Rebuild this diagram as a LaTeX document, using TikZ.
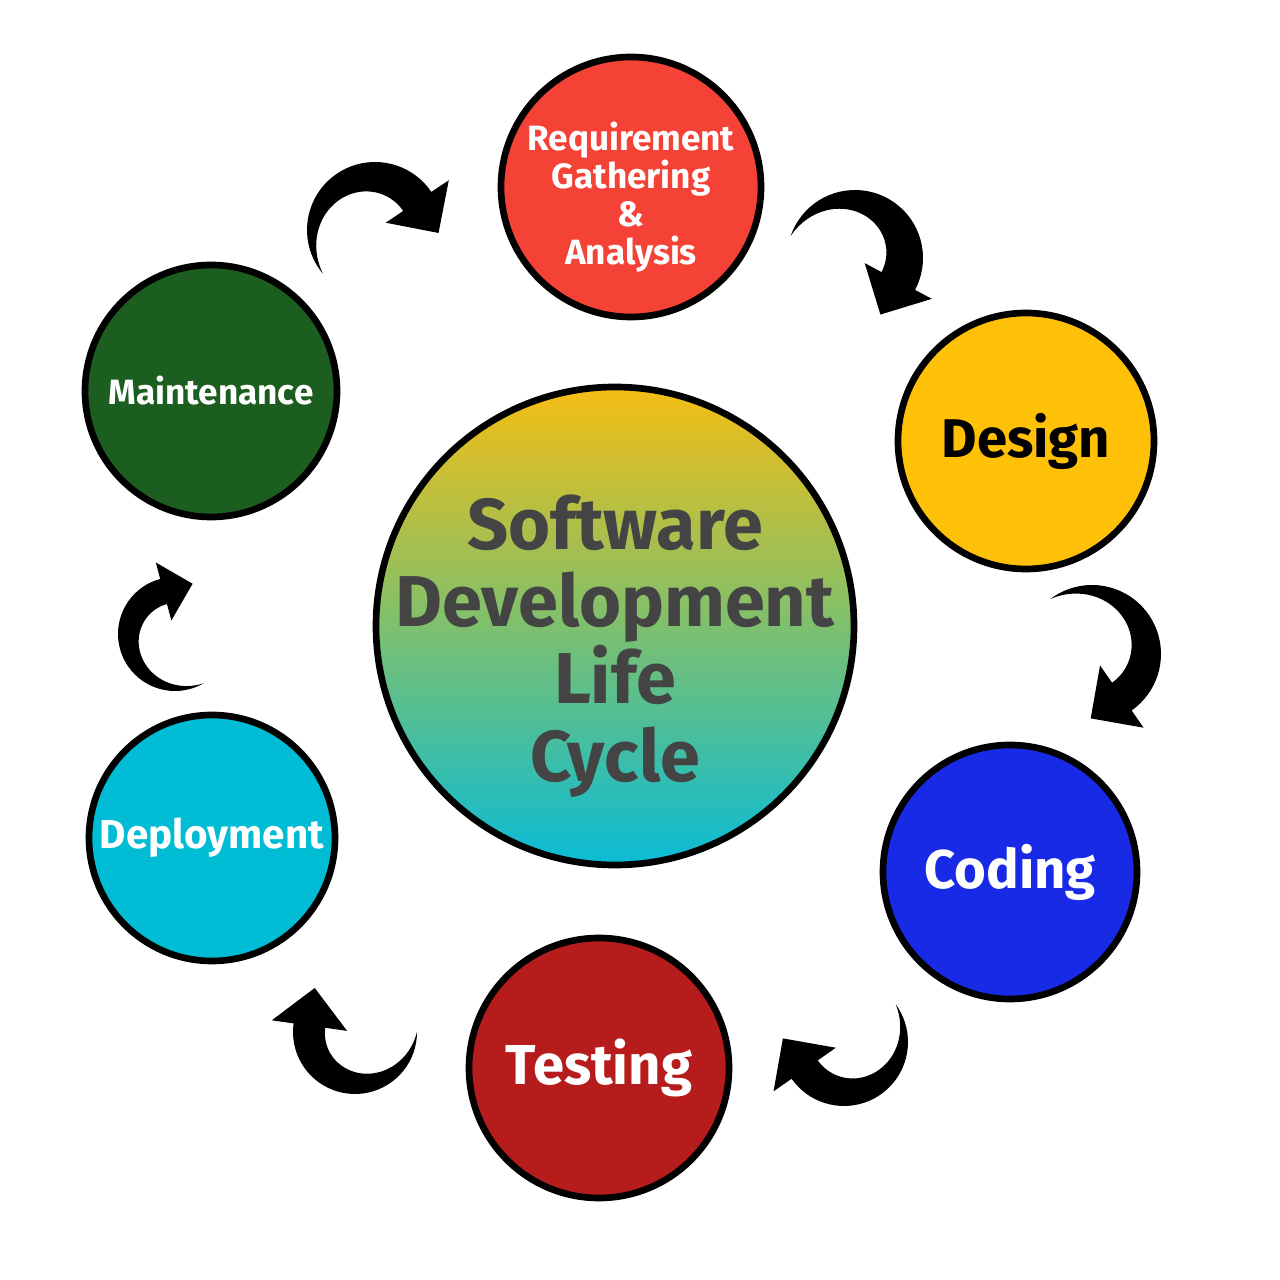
\documentclass[tikz,border=0pt]{standalone}
\usepackage{fontspec}
\setmainfont{Fira Sans}
\usepackage{tikz}
\usepackage{xcolor}

\definecolor{reqred}{RGB}{244,67,54}
\definecolor{designamber}{RGB}{255,193,7}
\definecolor{codingblue}{RGB}{24,42,230}
\definecolor{testingred}{RGB}{183,28,28}
\definecolor{deploycyan}{RGB}{0,188,212}
\definecolor{maintgreen}{RGB}{27,94,32}
\definecolor{sdlctop}{RGB}{245,190,20}
\definecolor{sdlcmid}{RGB}{125,192,110}
\definecolor{sdlcbot}{RGB}{10,188,215}
\definecolor{sdlctext}{RGB}{68,68,68}

% curved arrow: centre x, centre y, radius, tail angle, head angle, shaft width, head half width
\newcommand{\cyclearrow}[7]{%
  \fill[black, shift={(#1,#2)}]
    plot[domain=0:1, samples=40] ({#4+(#5-#4)*\x}:{#3})
    -- (#5:{#3-#6/2+#7})
    -- ({#5-atan(#7/(#3-#6/2))}:{sqrt((#3-#6/2)^2+(#7)^2)})
    -- (#5:{#3-#6/2-#7})
    -- plot[domain=0:1, samples=40] ({#5+(#4-#5)*\x}:{#3-#6*sin(90*(1-\x))})
    -- cycle;}

\begin{document}
\begin{tikzpicture}[
  x=0.1mm, y=0.1mm,
  phase/.style={circle, draw=black, line width=1.9pt, align=center, inner sep=0pt, text=white},
  bigfont/.style={font=\fontsize{15.5}{17}\selectfont\bfseries},
  smallfont/.style={font=\fontsize{10}{11}\selectfont\bfseries}
]
\useasboundingbox (0,0) rectangle (1280,1280);

\node[phase, top color=sdlctop, bottom color=sdlcbot, middle color=sdlcmid, minimum size=47.8mm] (sdlc) at (615,654) {};
\node[align=center, text=sdlctext, font=\fontsize{20.5}{22}\selectfont\bfseries] (sdlctitle) at ([yshift=-2mm]sdlc.center)
  {Software\\Development\\Life\\Cycle};

\node[phase, fill=reqred, minimum size=26mm, inner sep=-2pt, font=\fontsize{10}{10.8}\selectfont\bfseries] (req) at (631,1093)
  {\rule{0pt}{14pt}Requirement\\Gathering\\\&\\Analysis};
\node[phase, fill=designamber, minimum size=25.6mm, bigfont, text=black] (design) at (1026,839) {Design};
\node[phase, fill=codingblue, minimum size=25.4mm, bigfont] (coding) at (1010,408) {Coding};
\node[phase, fill=testingred, minimum size=26mm, font=\fontsize{16}{18}\selectfont\bfseries] (testing) at (599,212) {Testing};
\node[phase, fill=deploycyan, minimum size=24.6mm, font=\fontsize{11.5}{12}\selectfont\bfseries] (deploy) at (212,442) {Deployment};
\node[phase, fill=maintgreen, minimum size=25.2mm, smallfont] (maint) at (211,889) {Maintenance};

\cyclearrow{375}{1050}{68}{220}{34}{34}{38}
\cyclearrow{855}{1022}{68}{161}{-28}{38}{38}
\cyclearrow{1092}{626}{69}{127}{-55}{34}{38}
\cyclearrow{844}{238}{64}{36}{-145}{32}{38}
\cyclearrow{355}{248}{62}{360}{172}{32}{38}
\cyclearrow{175}{646}{57}{300}{105}{26}{30}
\end{tikzpicture}
\end{document}
